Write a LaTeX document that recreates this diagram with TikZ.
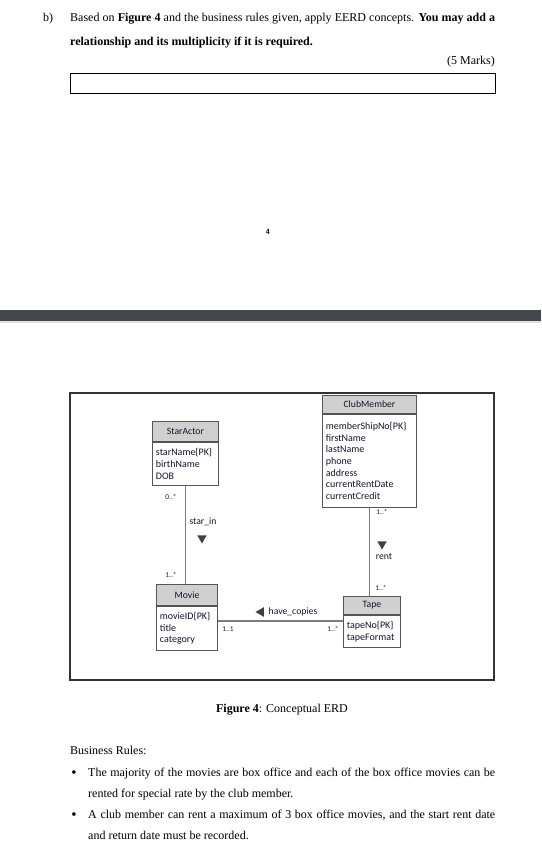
\documentclass[tikz,border=0pt]{standalone}
\usepackage{fontspec}
\setmainfont{Liberation Serif}
\newfontfamily\erdfont{Carlito}
\usetikzlibrary{shapes.geometric}
\definecolor{erdtext}{RGB}{20,20,45}
\definecolor{headgray}{RGB}{208,208,208}
\definecolor{boxgray}{RGB}{85,85,85}
\definecolor{linkgray}{RGB}{125,125,125}
\definecolor{bardark}{RGB}{68,71,75}
\begin{document}
\begin{tikzpicture}[x=1pt,y=-1pt,
	body/.style={font=\fontsize{12}{14}\selectfont, inner sep=0},
	ehead/.style={draw=boxgray, fill=headgray, line width=0.9pt, inner sep=0, anchor=north west,
		font=\erdfont\fontsize{9.7}{11}\selectfont, text=erdtext},
	eattr/.style={draw=boxgray, fill=white, line width=0.9pt, inner xsep=3.5pt, inner ysep=0, anchor=north,
		align=left, font=\erdfont\fontsize{10}{11.7}\selectfont, text=erdtext},
	link/.style={draw=linkgray, line width=1.7pt},
	mult/.style={font=\erdfont\fontsize{7.3}{8}\selectfont, text=erdtext, inner sep=0},
	rel/.style={font=\erdfont\fontsize{9.7}{11}\selectfont, text=erdtext, inner sep=0},
	dir/.style={regular polygon, regular polygon sides=3, fill=black!75, inner sep=0, minimum size=11pt}]
	\useasboundingbox (0,0) rectangle (541,857);
	% question
	\node[body, anchor=base west] (qlabel) at (43,21) {b)};
	\node[body, anchor=base west] (qline1) at (70,21) {\makebox[425pt][s]{Based on \textbf{Figure 4} and the business rules given, apply EERD concepts. \textbf{You may add a}}};
	\node[body, anchor=base west] (qline2) at (70,45) {\textbf{relationship and its multiplicity if it is required.}};
	\node[body, anchor=base east] (marks) at (495,64) {(5 Marks)};
	\draw[line width=0.9pt] (70,73) rectangle (495,93);
	\node[font=\sffamily\bfseries\fontsize{7.5}{8}\selectfont, inner sep=0] (pageno) at (268,232) {4};
	\fill[bardark] (0,310) rectangle (541,321);
	\fill[black!12] (0,321) rectangle (541,323);
	% figure 4
	\draw[line width=1.4pt, draw=black!80] (70,393) rectangle (494,680);
	\node[ehead, minimum width=66pt, minimum height=20pt] (sahead) at (152,421) {StarActor};
	\node[eattr, text width=59pt, minimum height=43pt] (saattr) at (sahead.south) {starName\{PK\}\\birthName\\DOB};
	\node[ehead, minimum width=94pt, minimum height=18pt] (cmhead) at (322,395) {ClubMember};
	\node[eattr, text width=87pt, minimum height=93pt] (cmattr) at (cmhead.south) {memberShipNo\{PK\}\\firstName\\lastName\\phone\\address\\currentRentDate\\currentCredit};
	\node[ehead, minimum width=61pt, minimum height=21pt] (mvhead) at (156,584) {Movie};
	\node[eattr, text width=54pt, minimum height=44pt] (mvattr) at (mvhead.south) {movieID\{PK\}\\title\\category};
	\node[ehead, minimum width=57pt, minimum height=18pt] (tphead) at (343,596) {Tape};
	\node[eattr, text width=50pt, minimum height=32pt] (tpattr) at (tphead.south) {tapeNo\{PK\}\\tapeFormat};
	\coordinate (hcy) at (0,621);
	\draw[link] (saattr.south) -- (saattr.south |- mvhead.north);
	\draw[link] (cmattr.south) -- (cmattr.south |- tphead.north);
	\draw[link] (mvattr.east |- hcy) -- (tpattr.west |- hcy);
	\foreach \x/\y/\t [count=\i] in {171/497/0..*, 171/575/1..*, 382/512/1..*, 381/588/1..*, 228/629/1..1, 333/629/1..*}{
		\node[mult] (mult\i) at (\x,\y) {\t};
	}
	\node[rel] (starin) at (203,522) {star\_in};
	\node[dir, shape border rotate=180] (starindir) at (202,538) {};
	\node[dir, shape border rotate=180] (rentdir) at (382,544) {};
	\node[rel] (rent) at (384,556) {rent};
	\node[dir, shape border rotate=90] (copiesdir) at (261,612) {};
	\node[rel] (copies) at (293,612) {have\_copies};
	\node[body, anchor=base] (caption) at (282,712) {\textbf{Figure 4}: Conceptual ERD};
	% business rules
	\node[body, anchor=base west] (rules) at (70,754) {Business Rules:};
	\foreach \y [count=\i] in {776,818}{
		\node[body, anchor=base, font=\fontsize{15}{16}\selectfont] (bullet\i) at (74,\y+1) {\textbullet};
	}
	\node[body, anchor=base west] (rule1a) at (88,776) {\makebox[407pt][s]{The majority of the movies are box office and each of the box office movies can be}};
	\node[body, anchor=base west] (rule1b) at (88,797) {rented for special rate by the club member.};
	\node[body, anchor=base west] (rule2a) at (88,818) {\makebox[407pt][s]{A club member can rent a maximum of 3 box office movies, and the start rent date}};
	\node[body, anchor=base west] (rule2b) at (88,839) {and return date must be recorded.};
\end{tikzpicture}
\end{document}
